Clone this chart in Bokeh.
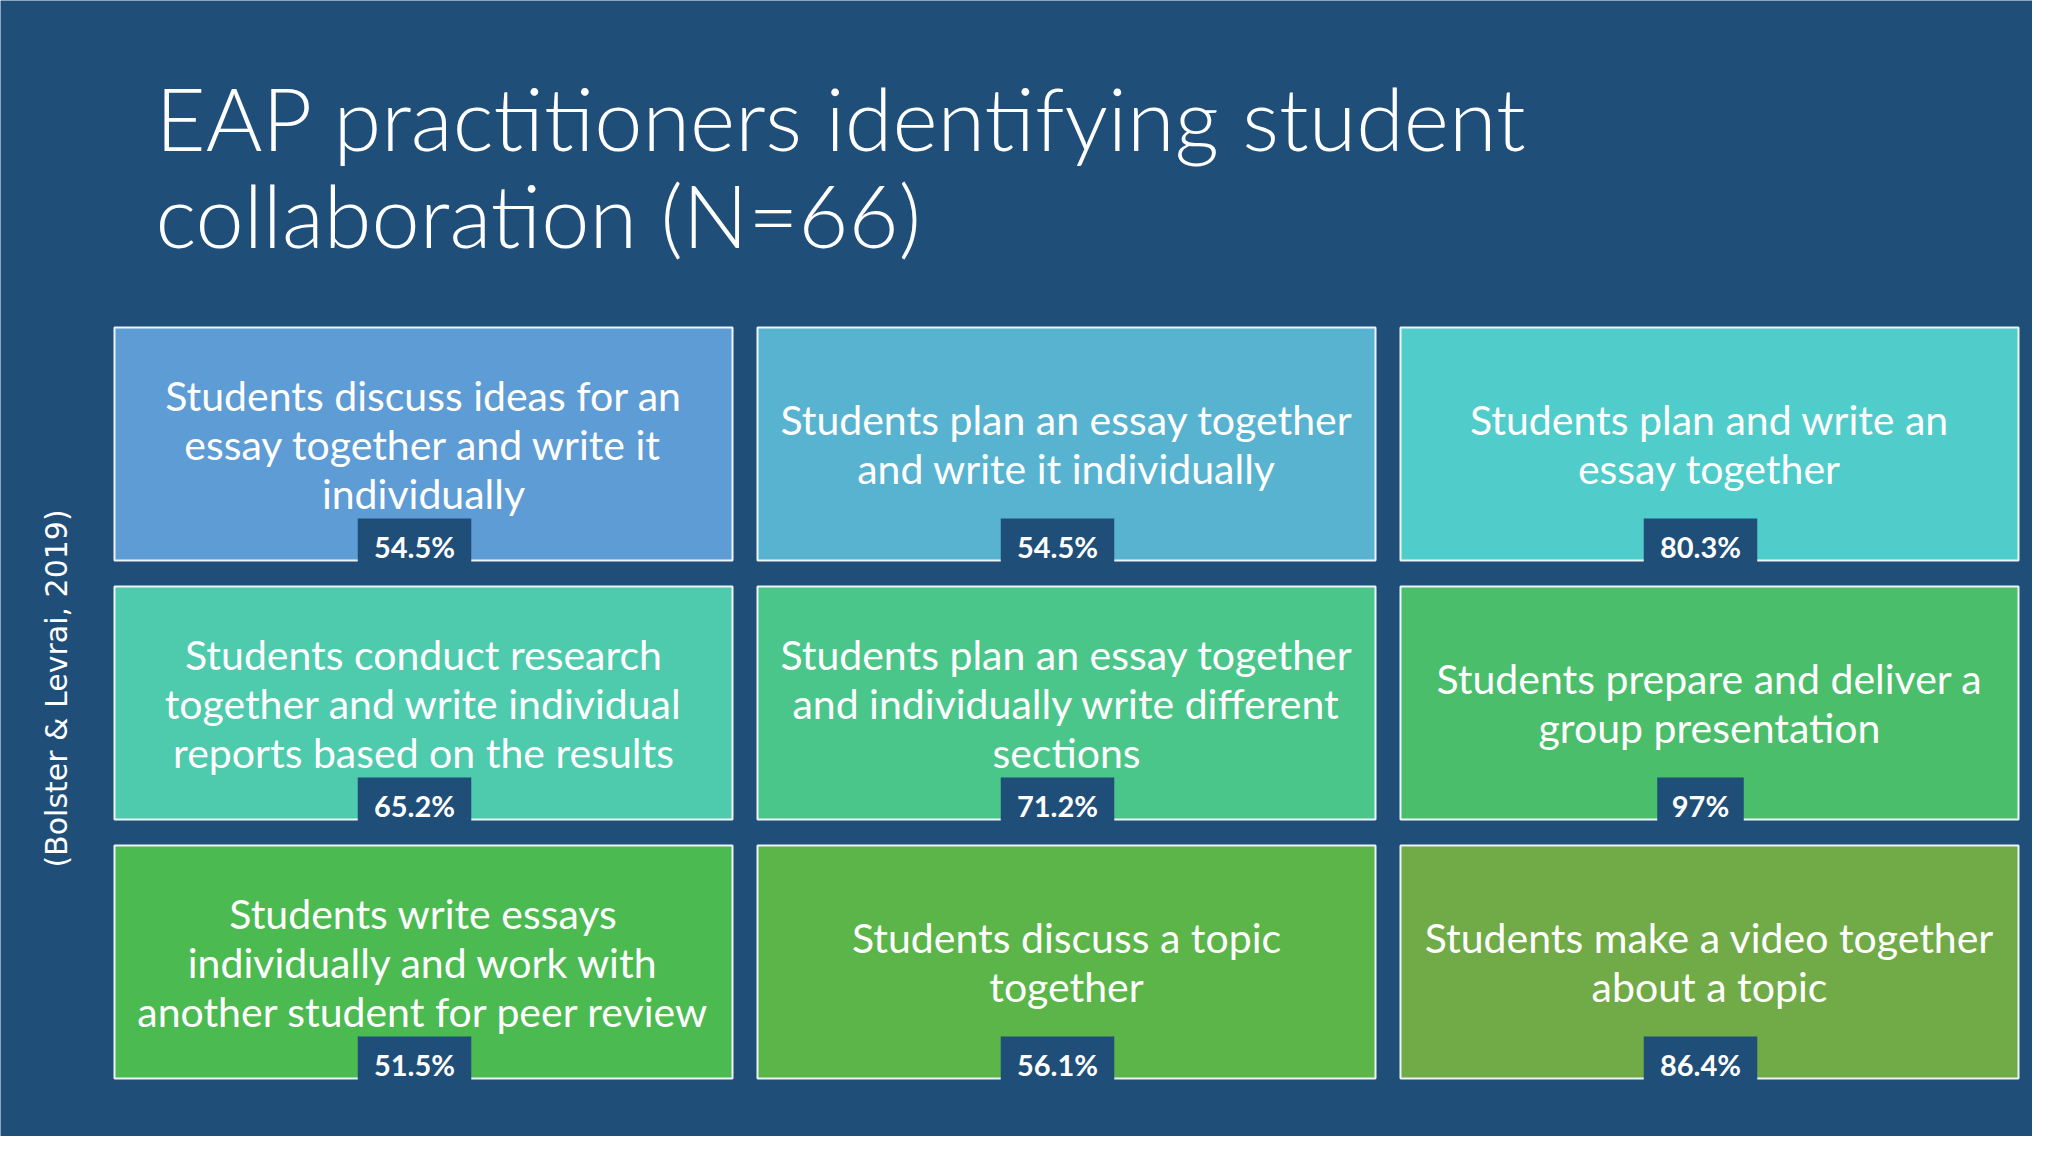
from math import pi
from bokeh.plotting import figure
from bokeh.models import Range1d, ColumnDataSource
from bokeh.core.properties import value
from bokeh.embed import file_html
from bokeh.resources import INLINE

# ---- data ----
title_lines = ["EAP practitioners identifying student", "collaboration (N=66)"]
source_note = "(Bolster & Levrai, 2019)"
activities = [
    "Students discuss ideas for an\nessay together and write it\nindividually",
    "Students plan an essay together\nand write it individually",
    "Students plan and write an\nessay together",
    "Students conduct research\ntogether and write individual\nreports based on the results",
    "Students plan an essay together\nand individually write different\nsections",
    "Students prepare and deliver a\ngroup presentation",
    "Students write essays\nindividually and work with\nanother student for peer review",
    "Students discuss a topic\ntogether",
    "Students make a video together\nabout a topic",
]
percentages = [54.5, 54.5, 80.3, 65.2, 71.2, 97, 51.5, 56.1, 86.4]

# ---- style ----
BG = "#1F4E79"
tile_colors = ["#5D9CD4", "#58B3D1", "#50CCCA",
               "#4ECAAC", "#4BC68A", "#4ABE6A",
               "#4BBA50", "#5BB548", "#71AB47"]
n_cols = 3
grid_left, grid_top = 114, 327
tile_w, tile_h = 618, 233
gap_x, gap_y = 25, 26

W, H = 2032, 1136
p = figure(width=W, height=H, output_backend="svg", toolbar_location=None,
           x_range=Range1d(0, W), y_range=Range1d(H, 0),
           min_border=0, background_fill_color=BG, border_fill_color=BG,
           outline_line_color=None)
p.axis.visible = False
p.grid.visible = False

lefts, rights, tops, bottoms, cx, cy = [], [], [], [], [], []
for i in range(len(activities)):
    r, c = divmod(i, n_cols)
    l = grid_left + c * (tile_w + gap_x)
    t = grid_top + r * (tile_h + gap_y)
    lefts.append(l); rights.append(l + tile_w)
    tops.append(t); bottoms.append(t + tile_h)
    cx.append(l + tile_w / 2); cy.append(t + tile_h / 2)

labels = [f"{v:g}%" for v in percentages]
lab_w = [46 + 13.5 * len(s) for s in labels]
lab_cx = [x - 9 for x in cx]

tiles = ColumnDataSource(dict(left=lefts, right=rights, top=tops, bottom=bottoms,
                              color=tile_colors, cx=cx, cy=cy, text=activities))
p.quad(left="left", right="right", top="top", bottom="bottom", source=tiles,
       fill_color="color", line_color="#EEF3F7", line_width=2)
p.text(x="cx", y="cy", text="text", source=tiles, text_align="center",
       text_baseline="middle", text_color="white", text_font=value("Lato"),
       text_font_size="41px", text_line_height=1.0)

labs = ColumnDataSource(dict(
    left=[x - w / 2 for x, w in zip(lab_cx, lab_w)],
    right=[x + w / 2 for x, w in zip(lab_cx, lab_w)],
    top=[b - 42 for b in bottoms], bottom=[b + 6 for b in bottoms],
    x=lab_cx, y=[b - 14 for b in bottoms], text=labels))
p.quad(left="left", right="right", top="top", bottom="bottom", source=labs,
       fill_color=BG, line_color=None)
p.text(x="x", y="y", text="text", source=labs, text_align="center",
       text_baseline="middle", text_color="white", text_font=value("Lato"),
       text_font_style="bold", text_font_size="29px")

p.text(x=[155, 155], y=[117, 214], text=title_lines, text_align="left",
       text_baseline="middle", text_color="white",
       text_font=value("Lato Light"), text_font_size="86.5px")

p.text(x=[56], y=[688], text=[source_note], angle=pi / 2, text_align="center",
       text_baseline="middle", text_color="white",
       text_font=value("DejaVu Sans"), text_font_size="30px")

open("out.html", "w").write(file_html(p, INLINE))
